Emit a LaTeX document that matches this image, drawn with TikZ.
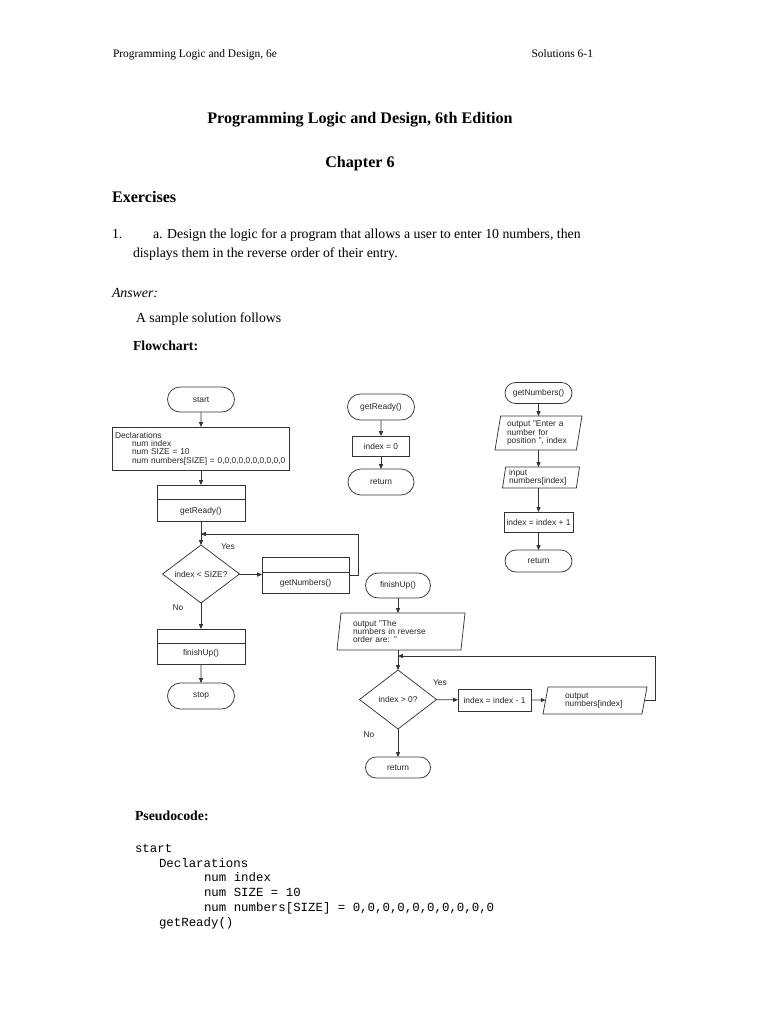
\documentclass[tikz,border=0pt]{standalone}
\usepackage{fontspec}
\setmainfont{Liberation Serif}
\setsansfont{Liberation Sans}
\setmonofont{Liberation Mono}
\usetikzlibrary{shapes.geometric,shapes.misc,arrows.meta,calc}
\definecolor{fcl}{gray}{0.2}
\begin{document}
\begin{tikzpicture}[x=0.75pt,y=-0.75pt,
 every node/.style={inner sep=0pt,outer sep=0pt},
 sz/.style 2 args={minimum width=#1*0.75pt,minimum height=#2*0.75pt},
 ftext/.style={font=\sffamily\fontsize{6.3pt}{6.3pt}\selectfont,text=black!85},
 shp/.style={draw=fcl,line width=0.55pt,ftext},
 term/.style={shp,rounded rectangle},
 box/.style={shp,rectangle},
 pp/.style={shp,rectangle,path picture={\draw[fcl,line width=0.55pt] ([yshift=-#1*0.75pt]path picture bounding box.north west) -- ([yshift=-#1*0.75pt]path picture bounding box.north east);}},
 dia/.style={shp,diamond,aspect=1.33},
 para/.style 2 args={shp,trapezium,trapezium left angle=#1,trapezium right angle=#2,trapezium stretches body=true,align=left},
 arr/.style={draw=fcl,line width=0.55pt,-{Triangle[length=3.6pt,width=3pt]}},
 hdr/.style={anchor=base west,font=\fontsize{8.6pt}{10pt}\selectfont},
 ttl/.style={anchor=base,font=\fontsize{12.1pt}{14pt}\selectfont\bfseries},
 body/.style={anchor=base west,font=\fontsize{10.35pt}{12pt}\selectfont},
 bodyb/.style={anchor=base west,font=\fontsize{10.35pt}{12pt}\selectfont\bfseries},
 bodyi/.style={anchor=base west,font=\fontsize{10.35pt}{12pt}\selectfont\itshape},
 code/.style={anchor=base west,font=\ttfamily\fontsize{9.3pt}{11pt}\selectfont}
]
\fill[white] (0,0) rectangle (768,1024);
\useasboundingbox (0,0) rectangle (768,1024);

% page text
\node[hdr] (h1) at (113,58) {Programming Logic and Design, 6e};
\node[hdr,anchor=base east] (h2) at (593,58) {Solutions 6-1};
\node[ttl] (t1) at (360,123) {Programming Logic and Design, 6th Edition};
\node[ttl] (t2) at (360,167) {Chapter 6};
\node[ttl,anchor=base west] (t3) at (112,202) {Exercises};
\node[body] (q1) at (112,238) {1.};
\node[body] (q2) at (153,238) {a. Design the logic for a program that allows a user to enter 10 numbers, then};
\node[body] (q3) at (133,257) {displays them in the reverse order of their entry.};
\node[bodyi] (an) at (112,297) {Answer:};
\node[body] (sm) at (136,322) {A sample solution follows};
\node[bodyb] (fc) at (133,350) {Flowchart:};
\node[bodyb] (ps) at (135,820) {Pseudocode:};
\node[code] (c1) at (135,852) {start};
\node[code] (c2) at (159,867) {Declarations};
\node[code] (c3) at (204,881) {num index};
\node[code] (c4) at (204,896) {num SIZE = 10};
\node[code] (c5) at (204,911) {num numbers[SIZE] = 0,0,0,0,0,0,0,0,0,0};
\node[code] (c6) at (159,926) {getReady()};

% main flowchart
\node[term,sz={67}{25}] (start) at (201,399.5) {start};
\node[box,sz={177}{43},align=left,text width=172*0.75pt] (decl) at (201,448.5)
  {\mbox{Declarations}\\\mbox{\hspace*{12.75pt}num index}\\\mbox{\hspace*{12.75pt}num SIZE = 10}\\\mbox{\hspace*{12.75pt}num numbers[SIZE] = 0,0,0,0,0,0,0,0,0,0}};
\node[pp=14,sz={88}{36},label={[ftext,yshift=-6pt]center:getReady()}] (gr) at (201,503) {};
\node[dia,sz={77}{58}] (d1) at (201,574) {index < SIZE?};
\node[pp=15,sz={87}{36},label={[ftext,yshift=-6pt]center:getNumbers()}] (gn) at (305.5,575) {};
\node[pp=14,sz={88}{35},label={[ftext,yshift=-5pt]center:finishUp()}] (fu) at (201,646.5) {};
\node[term,sz={67}{26}] (stop) at (201,696) {stop};
\node[ftext] (y1) at (228,547) {Yes};
\node[ftext] (n1) at (178,608) {No};
\coordinate (l1) at (201,534);
\coordinate (l1r) at (358,534);

\draw[arr] (start) -- (decl);
\draw[arr] (decl) -- (gr);
\draw[arr] (gr) -- (d1);
\draw[arr] (d1) -- (gn);
\draw[arr] (gn.east) -| (l1r) -- (l1);
\draw[arr] (d1) -- (fu);
\draw[arr] (fu) -- (stop);

% getReady module
\node[term,sz={67}{26}] (grt) at (381,407) {getReady()};
\node[box,sz={57}{20}] (idx0) at (381,446) {index = 0};
\node[term,sz={66}{26}] (ret1) at (381,482) {return};
\draw[arr] (grt) -- (idx0);
\draw[arr] (idx0) -- (ret1);

% getNumbers module
\node[term,sz={67}{21}] (gnt) at (538.5,393) {getNumbers()};
\node[para={77}{103},sz={87}{34},text width=63*0.75pt] (p1) at (538.5,433)
  {output "Enter a\\number for\\position ", index};
\node[para={79}{101},sz={77}{21},text width=64*0.75pt] (p2) at (541,477.5)
  {input\\numbers[index]};
\node[box,sz={69}{20}] (inc) at (538.5,522) {index = index + 1};
\node[term,sz={67}{22}] (ret2) at (538.5,561) {return};
\draw[arr] (gnt) -- (p1);
\draw[arr] (p1.south) -- (p1.south |- p2.north);
\draw[arr] (p2.south -| inc.north) -- (inc.north);
\draw[arr] (inc) -- (ret2);

% finishUp module
\node[term,sz={65}{25}] (fut) at (398,585.5) {finishUp()};
\node[para={80}{100},sz={128}{37},text width=96*0.75pt] (p3) at (401,631.5)
  {output "The\\numbers in reverse\\order are: "};
\node[dia,sz={77}{59}] (d2) at (398,699.5) {index > 0?};
\node[box,sz={73}{22}] (dec) at (494.5,700) {index = index - 1};
\node[para={72}{108},sz={104}{27},text width=60*0.75pt] (p4) at (595,700.5)
  {output\\numbers[index]};
\node[term,sz={65}{21}] (ret3) at (398,767.5) {return};
\node[ftext] (y2) at (440,683) {Yes};
\node[ftext] (n2) at (369,735) {No};
\coordinate (l2) at (398,656);
\coordinate (l2r) at (655,656);

\draw[arr] (fut.south) -- (fut.south |- p3.north);
\draw[arr] (p3.south -| d2.north) -- (d2.north);
\draw[arr] (d2) -- (dec);
\draw[arr] (dec.east) -- (p4);
\draw[arr] (p4.right side) -| (l2r) -- (l2);
\draw[arr] (d2) -- (ret3);
\end{tikzpicture}
\end{document}
